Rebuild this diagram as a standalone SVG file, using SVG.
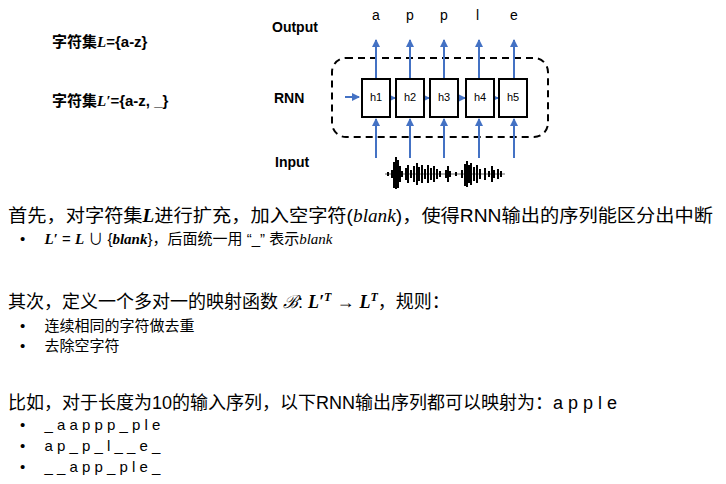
<svg xmlns="http://www.w3.org/2000/svg" width="726" height="484" viewBox="0 0 726 484">
<style>
text{font-family:"Liberation Sans","Noto Sans CJK SC",sans-serif;fill:#000}
.b{font-weight:bold}
.m{font-family:"Liberation Serif","Noto Sans CJK SC",serif;font-weight:bold;font-style:italic}
.i{font-family:"Liberation Serif",serif;font-style:italic}
.box{fill:#fff;stroke:#000;stroke-width:2}
.ar{stroke:#4472C4;stroke-width:2;fill:none;marker-end:url(#ah)}
.t{font-size:18px}.s{font-size:15px}
</style>
<defs><marker id="ah" markerWidth="4" markerHeight="4" refX="3.5" refY="2" orient="auto" markerUnits="strokeWidth"><path d="M0,0L4,2L0,4z" fill="#4472C4"/></marker></defs>
<rect width="726" height="484" fill="#fff"/>
<text x="52" y="47" font-size="15" class="b">字符集<tspan class="m">L</tspan>={a-z}</text>
<text x="52" y="106" font-size="15" class="b">字符集<tspan class="m">L′</tspan>={a-z, _}</text>
<text x="272" y="32" font-size="14" class="b">Output</text>
<text x="274" y="103" font-size="14" class="b">RNN</text>
<text x="275" y="167" font-size="14" class="b">Input</text>
<g font-size="14"><text x="372" y="20">a</text><text x="406" y="20">p</text><text x="440" y="20">p</text><text x="476" y="20">l</text><text x="510" y="20">e</text></g>
<rect x="332" y="58" width="216" height="79" rx="14" fill="none" stroke="#000" stroke-width="2" stroke-dasharray="7,5"/>
<g id="connectors">
<path class="ar" d="M345 97H359"/>
<path class="ar" d="M390 98H395"/><path class="ar" d="M424 98H429"/><path class="ar" d="M458 98H465"/><path class="ar" d="M494 98H498"/>
<path class="ar" d="M376 79V40"/><path class="ar" d="M410 79V40"/><path class="ar" d="M444 79V40"/><path class="ar" d="M479 79V40"/><path class="ar" d="M514 79V40"/>
<path class="ar" d="M376 158V119"/><path class="ar" d="M410 158V119"/><path class="ar" d="M444 158V119"/><path class="ar" d="M479 158V119"/><path class="ar" d="M514 158V119"/>
</g>
<g id="h1"><rect class="box" x="362" y="79" width="28" height="38"/><text x="376" y="101" font-size="11" text-anchor="middle">h1</text></g>
<g id="h2"><rect class="box" x="396" y="79" width="28" height="38"/><text x="410" y="101" font-size="11" text-anchor="middle">h2</text></g>
<g id="h3"><rect class="box" x="430" y="79" width="28" height="38"/><text x="444" y="101" font-size="11" text-anchor="middle">h3</text></g>
<g id="h4"><rect class="box" x="466" y="79" width="28" height="38"/><text x="480" y="101" font-size="11" text-anchor="middle">h4</text></g>
<g id="h5"><rect class="box" x="499" y="79" width="28" height="38"/><text x="513" y="101" font-size="11" text-anchor="middle">h5</text></g>
<g id="wave" stroke="#000">
<path d="M385 174H505" stroke="#666" stroke-width="1"/>
<path stroke-width="2" d="M388 172v4M392 170v8M394 162v26M396 157v32M398 160v28M400 166v16M402 171v6M406 168v12M408 165v18M411 170v8M414 166v16M417 163v22M419 167v14M422 165v18M425 169v10M428 165v18M431 168v12M434 166v16M437 169v10M440 171v6M446 170v8M448 166v16M450 171v6M456 172v4M462 170v8M465 164v22M467 161v26M469 165v18M471 163v22M474 167v14M477 165v18M480 169v10M485 168v12M489 171v6M492 166v16M494 170v8M498 169v10M501 171v6"/>
</g>
<text x="8" y="222" class="t" textLength="705" lengthAdjust="spacingAndGlyphs">首先，对字符集<tspan class="m">L</tspan>进行扩充，加入空字符(<tspan class="i">blank</tspan>)，使得RNN输出的序列能区分出中断</text>
<text x="20" y="244" class="s">•　 <tspan class="m">L′</tspan> = <tspan class="m">L</tspan> ∪ {<tspan class="m">blank</tspan>}，后面统一用 “_” 表示<tspan class="i">blank</tspan></text>
<text x="8" y="308" class="t">其次，定义一个多对一的映射函数 <tspan class="i">ℬ</tspan>:  <tspan class="m">L′<tspan dy="-7" font-size="12">T</tspan></tspan><tspan dy="7"> → </tspan><tspan class="m">L<tspan dy="-7" font-size="12">T</tspan></tspan><tspan dy="7">，规则：</tspan></text>
<text x="20" y="331" class="s">•　 连续相同的字符做去重</text>
<text x="20" y="351" class="s">•　 去除空字符</text>
<text x="8" y="409" class="t">比如，对于长度为10的输入序列，以下RNN输出序列都可以映射为：a p p l e</text>
<text x="20" y="430" class="s">•　 _ a a p p p _ p l e</text>
<text x="20" y="451" class="s">•　 a p _ p _ l _ _ e _</text>
<text x="20" y="472" class="s">•　 _ _ a p p _ p l e _</text>
</svg>
